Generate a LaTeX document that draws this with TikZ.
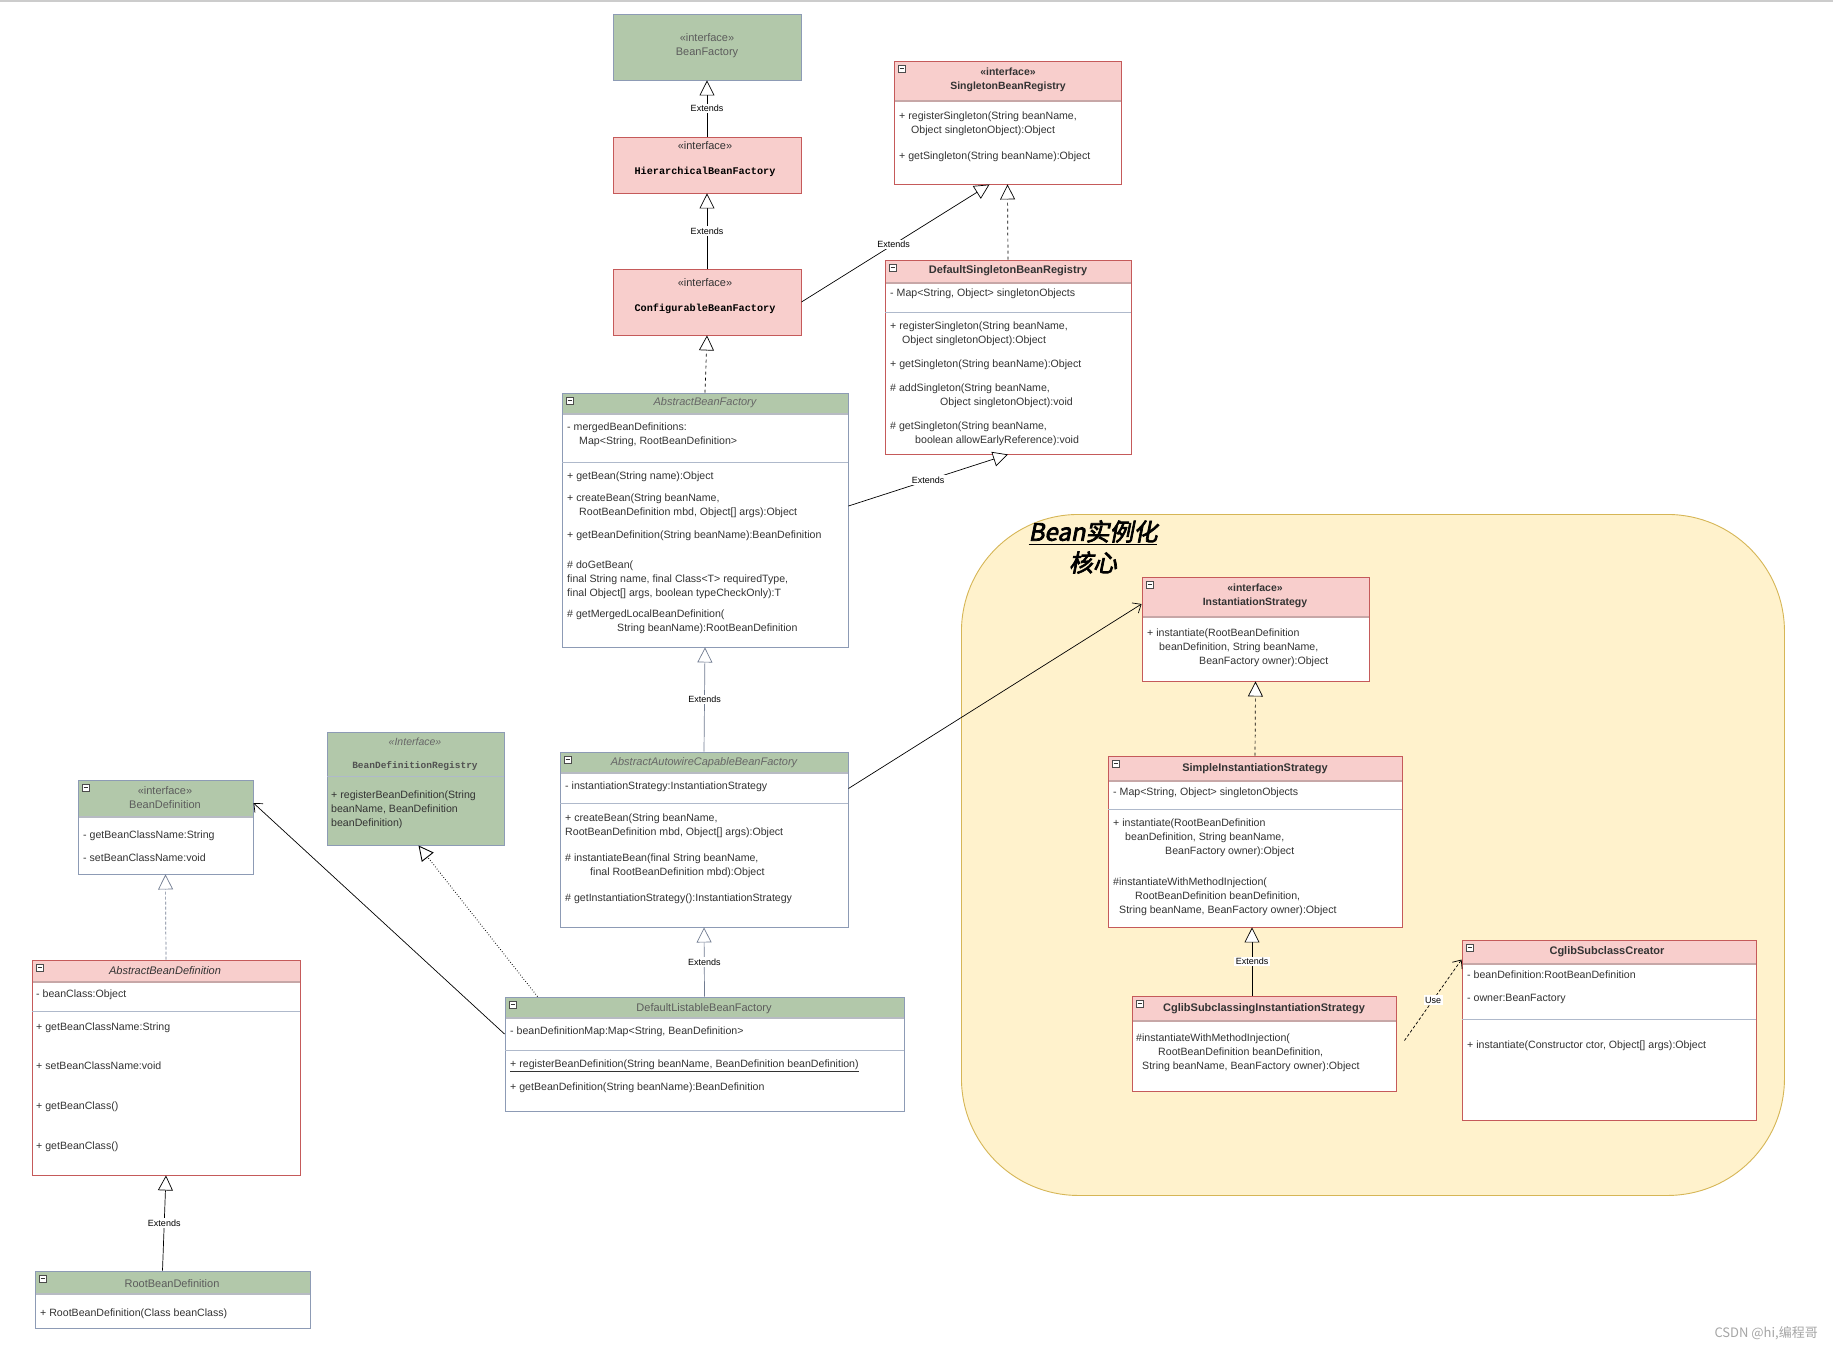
\documentclass[tikz,border=0pt]{standalone}
\usepackage{fontspec}
\setmainfont{Liberation Sans}
\newfontfamily\monob{Liberation Mono}[Scale=1]
\newfontfamily\cjk{Noto Sans CJK SC}[FakeSlant=0.2,FakeBold=3]
\usetikzlibrary{arrows.meta,fit}
\definecolor{gfill}{HTML}{B2C8AA}
\definecolor{gdraw}{HTML}{8D9BB5}
\definecolor{pfill}{HTML}{F8CECC}
\definecolor{pdraw}{HTML}{C55A5A}
\definecolor{yfill}{HTML}{FFF2CC}
\definecolor{ydraw}{HTML}{D6B656}
\definecolor{txtc}{HTML}{333333}
\tikzset{
 txt/.style={anchor=north west,align=left,inner sep=0pt,font=\fontsize{10.6}{14}\selectfont,text=txtc},
 ttl/.style={anchor=center,align=center,inner sep=0pt,font=\fontsize{11}{14}\selectfont,text=txtc},
 ext/.style={-{Triangle[open,length=15pt,width=15pt,fill=white]},line width=.7pt},
 impl/.style={ext,dashed},
 assoc/.style={-{Straight Barb[length=7pt,width=12pt]},line width=.7pt},
 lbl/.style={fill=white,inner sep=1.5pt,font=\fontsize{9}{10}\selectfont,text=black},
}
\newcommand\umlbox[8]{%
 \fill[white] (#2,#3) rectangle (#4,#5);
 \fill[#7] (#2,#3) rectangle (#4,#6);
 \draw[#8!50!gray!60,line width=1.5pt] (#2,#6) -- (#4,#6);
 \node[draw=#8,line width=.9pt,inner sep=0pt,fit={(#2,#3)(#4,#5)}] (#1) {};
 \draw[black!70,fill=white,line width=.4pt] ({#2+4},{#3+4}) rectangle ({#2+11},{#3+11});
 \draw[black!80,line width=.8pt] ({#2+5.5},{#3+7.5}) -- ({#2+9.5},{#3+7.5});
}
\newcommand\ibox[7]{%
 \fill[#6] (#2,#3) rectangle (#4,#5);
 \node[draw=#7,line width=.9pt,inner sep=0pt,fit={(#2,#3)(#4,#5)}] (#1) {};
}
\newcommand\sepl[3]{\draw[gdraw!70,line width=1pt] (#1,#3) -- (#2,#3);}
\begin{document}
\begin{tikzpicture}[x=1pt,y=-1pt]
\useasboundingbox (0,0) rectangle (1833,1350);
\fill[white] (0,0) rectangle (1833,1350);
\draw[gray!40,line width=2pt] (0,1) -- (1833,1); 
% yellow region
\node[draw=ydraw,fill=yfill,line width=.9pt,rounded corners=117pt,minimum width=823pt,minimum height=681pt,anchor=north west,inner sep=0pt] (core) at (961,514) {};
\node[anchor=center,align=center,inner sep=0pt,font=\cjk\fontsize{24}{31}\selectfont] (coret) at (1093,547) {\underline{Bean实例化}\\核心};
% interface boxes
\ibox{bf}{613}{14}{801}{80}{gfill}{gdraw}
\node[ttl,text=txtc!80] (bft) at (707,46) {«interface»\\BeanFactory};
\ibox{hbf}{613}{137}{801}{193}{pfill}{pdraw}
\node[ttl] (hbft1) at (705,146) {«interface»};
\node[ttl,font=\monob\bfseries\fontsize{10.2}{12}\selectfont,text=black] (hbft2) at (705,172) {HierarchicalBeanFactory};
\ibox{cbf}{613}{269}{801}{335}{pfill}{pdraw}
\node[ttl] (cbft1) at (705,283) {«interface»};
\node[ttl,font=\monob\bfseries\fontsize{10.2}{12}\selectfont,text=black] (cbft2) at (705,309) {ConfigurableBeanFactory};
% SingletonBeanRegistry
\umlbox{sbr}{894}{61}{1121}{184}{101}{pfill}{pdraw}
\node[ttl,font=\bfseries\fontsize{10.5}{14.5}\selectfont] (sbrt) at (1008,80) {«interface»\\SingletonBeanRegistry};
\node[txt] (sbrm) at (899,112) {+ registerSingleton(String beanName,\\\hspace{12pt}Object singletonObject):Object\\[12pt]+ getSingleton(String beanName):Object};
% DefaultSingletonBeanRegistry
\umlbox{dsbr}{885}{260}{1131}{454}{283}{pfill}{pdraw}
\sepl{885}{1131}{312}
\node[ttl,font=\bfseries\fontsize{11}{14}\selectfont] (dsbrt) at (1008,271) {DefaultSingletonBeanRegistry};
\node[txt] (dsbra) at (890,289) {- Map<String, Object> singletonObjects};
\node[txt] (dsbrm) at (890,322) {+ registerSingleton(String beanName,\\\hspace{12pt}Object singletonObject):Object\\[10pt]+ getSingleton(String beanName):Object\\[10pt]\# addSingleton(String beanName,\\\hspace{50pt}Object singletonObject):void\\[10pt]\# getSingleton(String beanName,\\\hspace{25pt}boolean allowEarlyReference):void};
% AbstractBeanFactory
\umlbox{abf}{562}{393}{848}{647}{414}{gfill}{gdraw}
\sepl{562}{848}{462}
\node[ttl,font=\itshape\fontsize{11}{14}\selectfont,text=txtc!75] (abft) at (705,403) {AbstractBeanFactory};
\node[txt] (abfa) at (567,423) {- mergedBeanDefinitions:\\\hspace{12pt}Map<String, RootBeanDefinition>};
\node[txt] (abfm) at (567,472) {+ getBean(String name):Object\\[8pt]+ createBean(String beanName,\\\hspace{12pt}RootBeanDefinition mbd, Object[] args):Object\\[9pt]+ getBeanDefinition(String beanName):BeanDefinition\\[16pt]\# doGetBean(\\final String name, final Class<T> requiredType,\\final Object[] args, boolean typeCheckOnly):T\\[7pt]\# getMergedLocalBeanDefinition(\\\hspace{50pt}String beanName):RootBeanDefinition};
% AbstractAutowireCapableBeanFactory
\umlbox{aaf}{560}{752}{848}{927}{773}{gfill}{gdraw}
\sepl{560}{848}{803}
\node[ttl,font=\itshape\fontsize{11}{14}\selectfont,text=txtc!75] (aaft) at (704,763) {AbstractAutowireCapableBeanFactory};
\node[txt] (aafa) at (565,782) {- instantiationStrategy:InstantiationStrategy};
\node[txt] (aafm) at (565,814) {+ createBean(String beanName,\\RootBeanDefinition mbd, Object[] args):Object\\[12pt]\# instantiateBean(final String beanName,\\\hspace{25pt}final RootBeanDefinition mbd):Object\\[12pt]\# getInstantiationStrategy():InstantiationStrategy};
% DefaultListableBeanFactory
\umlbox{dlbf}{505}{997}{904}{1111}{1018}{gfill}{gdraw}
\sepl{505}{904}{1050}
\node[ttl,text=txtc!80] (dlbft) at (704,1009) {DefaultListableBeanFactory};
\node[txt] (dlbfa) at (510,1027) {- beanDefinitionMap:Map<String, BeanDefinition>};
\node[txt] (dlbfm) at (510,1060) {\underline{+ registerBeanDefinition(String beanName, BeanDefinition beanDefinition)}\\[9pt]+ getBeanDefinition(String beanName):BeanDefinition};
% BeanDefinitionRegistry
\ibox{bdr}{327}{732}{504}{845}{gfill}{gdraw}
\draw[gdraw!70,line width=.6pt] (327,776) -- (504,776);
\node[ttl,font=\itshape\fontsize{10.5}{13}\selectfont,text=txtc!75] (bdrt1) at (415,742) {<<Interface>>};
\node[ttl,font=\monob\bfseries\fontsize{9.5}{12}\selectfont,text=txtc!85] (bdrt2) at (415,766) {BeanDefinitionRegistry};
\node[txt] (bdrm) at (331,791) {+ registerBeanDefinition(String\\beanName, BeanDefinition\\beanDefinition)};
% BeanDefinition
\umlbox{bd}{78}{780}{253}{874}{817}{gfill}{gdraw}
\node[ttl,text=txtc!80] (bdt) at (165,798) {«interface»\\BeanDefinition};
\node[txt] (bdm) at (83,831) {- getBeanClassName:String\\[9pt]- setBeanClassName:void};
% AbstractBeanDefinition
\umlbox{abd}{32}{960}{300}{1175}{982}{pfill}{pdraw}
\sepl{32}{300}{1011}
\node[ttl,font=\itshape\fontsize{11}{14}\selectfont] (abdt) at (165,971) {AbstractBeanDefinition};
\node[txt] (abda) at (36,990) {- beanClass:Object};
\node[txt] (abdm) at (36,1023) {+ getBeanClassName:String\\[25pt]+ setBeanClassName:void\\[26pt]+ getBeanClass()\\[26pt]+ getBeanClass()};
% RootBeanDefinition
\umlbox{rbd}{35}{1271}{310}{1328}{1294}{gfill}{gdraw}
\node[ttl,text=txtc!80] (rbdt) at (172,1284) {RootBeanDefinition};
\node[txt] (rbdm) at (40,1309) {+ RootBeanDefinition(Class beanClass)};
% InstantiationStrategy
\umlbox{is}{1142}{577}{1369}{681}{617}{pfill}{pdraw}
\node[ttl,font=\bfseries\fontsize{10.5}{14}\selectfont] (ist) at (1255,596) {«interface»\\InstantiationStrategy};
\node[txt] (ism) at (1147,629) {+ instantiate(RootBeanDefinition\\\hspace{12pt}beanDefinition, String beanName,\\\hspace{52pt}BeanFactory owner):Object};
% SimpleInstantiationStrategy
\umlbox{sis}{1108}{756}{1402}{927}{781}{pfill}{pdraw}
\sepl{1108}{1402}{809}
\node[ttl,font=\bfseries\fontsize{11}{14}\selectfont] (sist) at (1255,769) {SimpleInstantiationStrategy};
\node[txt] (sisa) at (1113,788) {- Map<String, Object> singletonObjects};
\node[txt] (sism) at (1113,819) {+ instantiate(RootBeanDefinition\\\hspace{12pt}beanDefinition, String beanName,\\\hspace{52pt}BeanFactory owner):Object\\[17pt]\#instantiateWithMethodInjection(\\\hspace{22pt}RootBeanDefinition beanDefinition,\\\hspace{6pt}String beanName, BeanFactory owner):Object};
% CglibSubclassingInstantiationStrategy
\umlbox{csis}{1132}{996}{1396}{1091}{1021}{pfill}{pdraw}
\node[ttl,font=\bfseries\fontsize{11}{14}\selectfont] (csist) at (1264,1009) {CglibSubclassingInstantiationStrategy};
\node[txt] (csism) at (1136,1034) {\#instantiateWithMethodInjection(\\\hspace{22pt}RootBeanDefinition beanDefinition,\\\hspace{6pt}String beanName, BeanFactory owner):Object};
% CglibSubclassCreator
\umlbox{csc}{1462}{940}{1756}{1120}{964}{pfill}{pdraw}
\sepl{1462}{1756}{1019}
\node[ttl,font=\bfseries\fontsize{11}{14}\selectfont] (csct) at (1607,952) {CglibSubclassCreator};
\node[txt] (csca) at (1467,971) {- beanDefinition:RootBeanDefinition\\[9pt]- owner:BeanFactory};
\node[txt] (cscm) at (1467,1041) {+ instantiate(Constructor ctor, Object[] args):Object};
% connectors
\draw[ext] (hbf.north) -- node[lbl] (l1) {Extends} (bf.south);
\draw[ext] (cbf.north) -- node[lbl] (l2) {Extends} (hbf.south);
\draw[impl] (abf.north) -- (cbf.south);
\draw[ext] (cbf.east) -- node[lbl,pos=.49] (l3) {Extends} ([xshift=-18pt]sbr.south);
\draw[impl] (dsbr.north) -- (sbr.south);
\draw[ext] ([yshift=14pt]abf.east) -- node[lbl] (l4) {Extends} (dsbr.south);
\draw[ext,draw=gdraw!80!black] (aaf.north) -- node[lbl] (l5) {Extends} (abf.south);
\draw[assoc] ([yshift=51pt]aaf.east) -- ([yshift=25pt]is.west);
\draw[ext,draw=gdraw!80!black] (dlbf.north) -- node[lbl] (l6) {Extends} (aaf.south);
\draw[assoc] ([yshift=20pt]dlbf.west) -- ([yshift=24pt]bd.east);
\draw[ext,dotted,line width=.9pt] ([xshift=-167pt]dlbf.north) -- ([xshift=3pt]bdr.south);
\draw[impl,draw=gdraw!80!black,dash pattern=on 3pt off 2pt] (abd.north) -- (bd.south);
\draw[ext] ([xshift=-10pt]rbd.north) -- node[lbl] (l7) {Extends} (abd.south);
\draw[impl] (sis.north) -- (is.south);
\draw[ext] ([xshift=-12pt]csis.north) -- node[lbl] (l8) {Extends} ([xshift=-3pt]sis.south);
\draw[assoc,densely dashed] ([xshift=8pt,yshift=3pt]csis.east) -- node[lbl,pos=.5] (l9) {Use} ([yshift=-20pt]csc.north west);
\node[anchor=east,inner sep=0pt,font=\cjk\fontsize{13}{15}\selectfont,text=gray!70] (wm) at (1818,1333) {\addfontfeature{FakeSlant=0,FakeBold=0}CSDN @hi,编程哥};
\end{tikzpicture}
\end{document}
